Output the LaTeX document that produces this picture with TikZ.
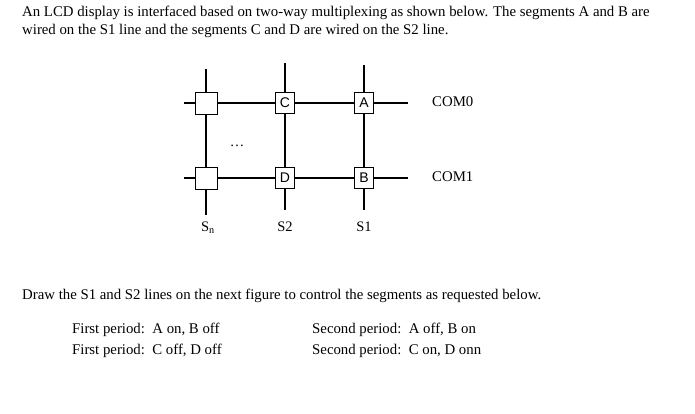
\documentclass[tikz,border=0pt]{standalone}
\usepackage{fontspec}
\setmainfont{Liberation Serif}
\setsansfont{Liberation Sans}
\begin{document}
\begin{tikzpicture}[x=1pt,y=-1pt,
  wire/.style={line width=2.4pt},
  seg/.style={draw,fill=white,line width=0.9pt,minimum width=19pt,minimum height=21pt,inner sep=0pt,font=\sffamily\fontsize{14}{14}\selectfont},
  bigseg/.style={seg,minimum width=22pt,minimum height=22pt},
  lab/.style={font=\fontsize{14.5}{14.5}\selectfont},
  txt/.style={anchor=west,inner sep=0pt,font=\fontsize{14.8}{18}\selectfont}]
\useasboundingbox (0,0) rectangle (695,414);
\node[txt,anchor=north west,align=left] (intro) at (22,6) {An LCD display is interfaced based on two-way multiplexing as shown below. The segments A and B are\\ wired on the S1 line and the segments C and D are wired on the S2 line.};
% wires
\coordinate (l0) at (184,103); \coordinate (r0) at (408,103);
\coordinate (l1) at (184,178); \coordinate (r1) at (408,178);
\coordinate (tn) at (206,69); \coordinate (bn) at (206,215);
\coordinate (t2) at (285,63); \coordinate (b2) at (285,210);
\coordinate (t1) at (364,65); \coordinate (b1) at (364,210);
\draw[wire] (l0)--(r0); \draw[wire] (l1)--(r1);
\draw[wire] (tn)--(bn); \draw[wire] (t2)--(b2); \draw[wire] (t1)--(b1);
\node[bigseg] (n0) at (206,103) {};
\node[bigseg] (n1) at (206,178) {};
\node[seg] (C) at (285,103) {C};
\node[seg] (A) at (364,103) {A};
\node[seg] (D) at (285,178) {D};
\node[seg] (B) at (364,178) {B};
\node[lab] (dots) at (237,146) {\dots};
\node[txt] (com0) at (432,102) {COM0};
\node[txt] (com1) at (432,177) {COM1};
\node[lab] (sn) at (208,228) {S\textsubscript{n}};
\node[lab] (s2) at (285,227) {S2};
\node[lab] (s1) at (364,227) {S1};
\node[txt] (draw) at (22,296) {Draw the S1 and S2 lines on the next figure to control the segments as requested below.};
\node[txt] (p1) at (72,330) {First period:\ \ A on, B off};
\node[txt] (p2) at (72,351) {First period:\ \ C off, D off};
\node[txt] (p3) at (312,330) {Second period:\ \ A off, B on};
\node[txt] (p4) at (312,351) {Second period:\ \ C on, D onn};
\end{tikzpicture}
\end{document}
